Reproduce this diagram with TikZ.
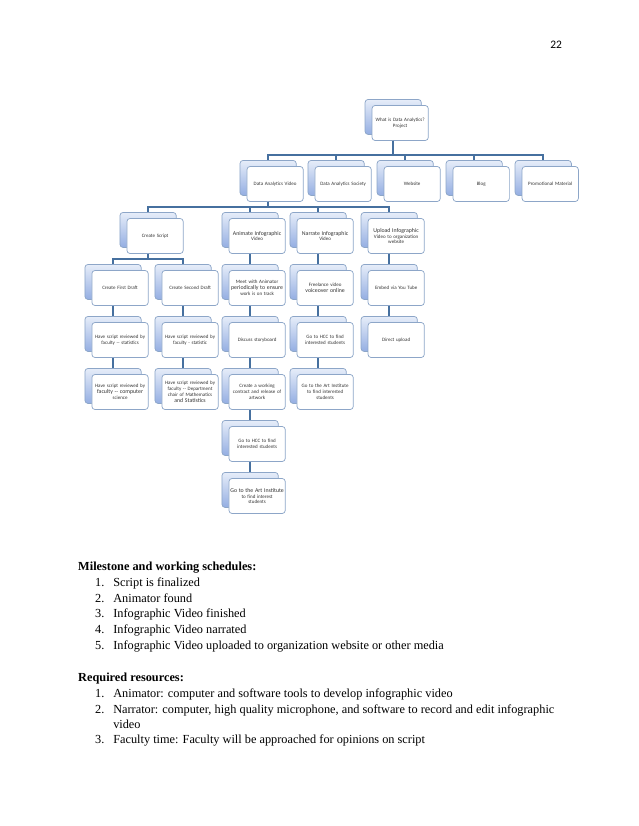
\documentclass[tikz,border=0pt]{standalone}
\usepackage{fontspec}
\setmainfont{Liberation Serif}
\newfontfamily\calibri{Carlito}
\usetikzlibrary{shadows}
\definecolor{linkblue}{HTML}{46709F}
\definecolor{boxedge}{HTML}{8DA6C8}
\definecolor{backtop}{HTML}{E6EDF9}
\definecolor{backbot}{HTML}{94AEE2}
\newcommand{\bt}{\fontsize{5.6}{6.3}\selectfont}
\newcommand{\sm}{\fontsize{4.8}{5.7}\selectfont}
\newcommand{\num}[1]{\makebox[17.3pt][l]{#1}}

\begin{document}
\begin{tikzpicture}[x=0.9592pt, y=-0.9588pt,
    card/.style={draw=boxedge, fill=white, rounded corners=3pt, line width=0.7pt,
      minimum width=53.7pt, minimum height=33.6pt, inner sep=1pt, text width=52pt,
      align=center, font=\calibri\sm, text=black!80,
      copy shadow={shadow xshift=-6.7pt, shadow yshift=5.8pt, draw=boxedge,
        top color=backtop, bottom color=backbot}},
    link/.style={draw=linkblue, line width=1.9pt},
    body/.style={anchor=base west, inner sep=0pt, font=\fontsize{11.8}{14}\selectfont},
    head/.style={body, font=\fontsize{11.8}{14}\selectfont\bfseries}]
    \useasboundingbox (0,0) rectangle (638,826);
    \node[font=\calibri\fontsize{11}{13}\selectfont] (page) at (556,45) {22};

    % chart
    \node[card] (top) at (400,123) {What is Data Analytics?\\ Project};
    \node[card] (dav) at (275,184) {Data Analytics Video};
    \node[card] (das) at (343,184) {Data Analytics Society};
    \node[card] (web) at (412,184) {Website};
    \node[card] (blog) at (481,184) {Blog};
    \node[card] (promo) at (550,184) {Promotional Material};
    \node[card] (cs) at (155,236) {Create Script};
    \node[card] (aiv) at (257,236) {{\bt Animate Infographic}\\ Video};
    \node[card] (niv) at (325,236) {{\bt Narrate Infographic}\\ Video};
    \node[card] (uiv) at (396,236) {{\bt Upload Infographic}\\ Video to organization\\ website};
    \node[card] (cfd) at (120,288) {Create First Draft};
    \node[card] (csd) at (190,288) {Create Second Draft};
    \node[card] (meet) at (257,288) {Meet with Animator\\ {\bt periodically to ensure}\\ work is on track};
    \node[card] (free) at (325,288) {Freelance video\\ {\bt voiceover online}};
    \node[card] (embed) at (396,288) {Embed via You Tube};
    \node[card] (rv1) at (120,340) {Have script reviewed by\\ faculty -- statistics};
    \node[card] (rv2) at (190,340) {Have script reviewed by\\ faculty - statistic};
    \node[card] (story) at (257,340) {Discuss storyboard};
    \node[card] (hcc1) at (325,340) {Go to HCC to find\\ interested students};
    \node[card] (direct) at (396,340) {Direct upload};
    \node[card] (rv3) at (120,392) {Have script reviewed by\\ {\bt faculty -- computer}\\ science};
    \node[card] (rv4) at (190,392) {Have script reviewed by\\ faculty -- Department\\ chair of Mathematics\\ {\bt and Statistics}};
    \node[card] (contract) at (257,392) {Create a working\\ contract and release of\\ artwork};
    \node[card] (art1) at (325,392) {Go to the Art Institute\\ to find interested\\ students};
    \node[card] (hcc2) at (257,444) {Go to HCC to find\\ interested students};
    \node[card] (art2) at (257,496) {{\bt Go to the Art Institute}\\ to find interest\\ students};

    \coordinate (bus1) at (0,155);
    \coordinate (bus2) at (0,207);
    \coordinate (bus3) at (0,259);
    \foreach \c in {dav,das,web,blog,promo}
      \draw[link] ([xshift=-6.7pt]top.south) |- ([xshift=-6.7pt]\c.north |- bus1) -- ([xshift=-6.7pt,yshift=5.8pt]\c.north);
    \foreach \c in {cs,aiv,niv,uiv}
      \draw[link] ([xshift=-6.7pt]dav.south) |- ([xshift=-6.7pt]\c.north |- bus2) -- ([xshift=-6.7pt,yshift=5.8pt]\c.north);
    \foreach \c in {cfd,csd}
      \draw[link] ([xshift=-6.7pt]cs.south) |- ([xshift=-6.7pt]\c.north |- bus3) -- ([xshift=-6.7pt,yshift=5.8pt]\c.north);
    \foreach \p/\c in {cfd/rv1,rv1/rv3,csd/rv2,rv2/rv4,aiv/meet,meet/story,story/contract,
        contract/hcc2,hcc2/art2,niv/free,free/hcc1,hcc1/art1,uiv/embed,embed/direct}
      \draw[link] ([xshift=-6.7pt]\p.south) -- ([xshift=-6.7pt,yshift=5.8pt]\c.north);

    % text below
    \node[head] (ms) at (78,570) {Milestone and working schedules:};
    \node[body] (ms1) at (95,586) {\num{1.}Script is finalized};
    \node[body] (ms2) at (95,602) {\num{2.}Animator found};
    \node[body] (ms3) at (95,617) {\num{3.}Infographic Video finished};
    \node[body] (ms4) at (95,633) {\num{4.}Infographic Video narrated};
    \node[body] (ms5) at (95,649) {\num{5.}Infographic Video uploaded to organization website or other media};
    \node[head] (rq) at (78,681) {Required resources:};
    \node[body] (rq1) at (95,697) {\num{1.}Animator: computer and software tools to develop infographic video};
    \node[body] (rq2) at (95,713) {\num{2.}Narrator: computer, high quality microphone, and software to record and edit infographic};
    \node[body] (rq2b) at (113,728) {video};
    \node[body] (rq3) at (95,743) {\num{3.}Faculty time: Faculty will be approached for opinions on script};
\end{tikzpicture}
\end{document}
